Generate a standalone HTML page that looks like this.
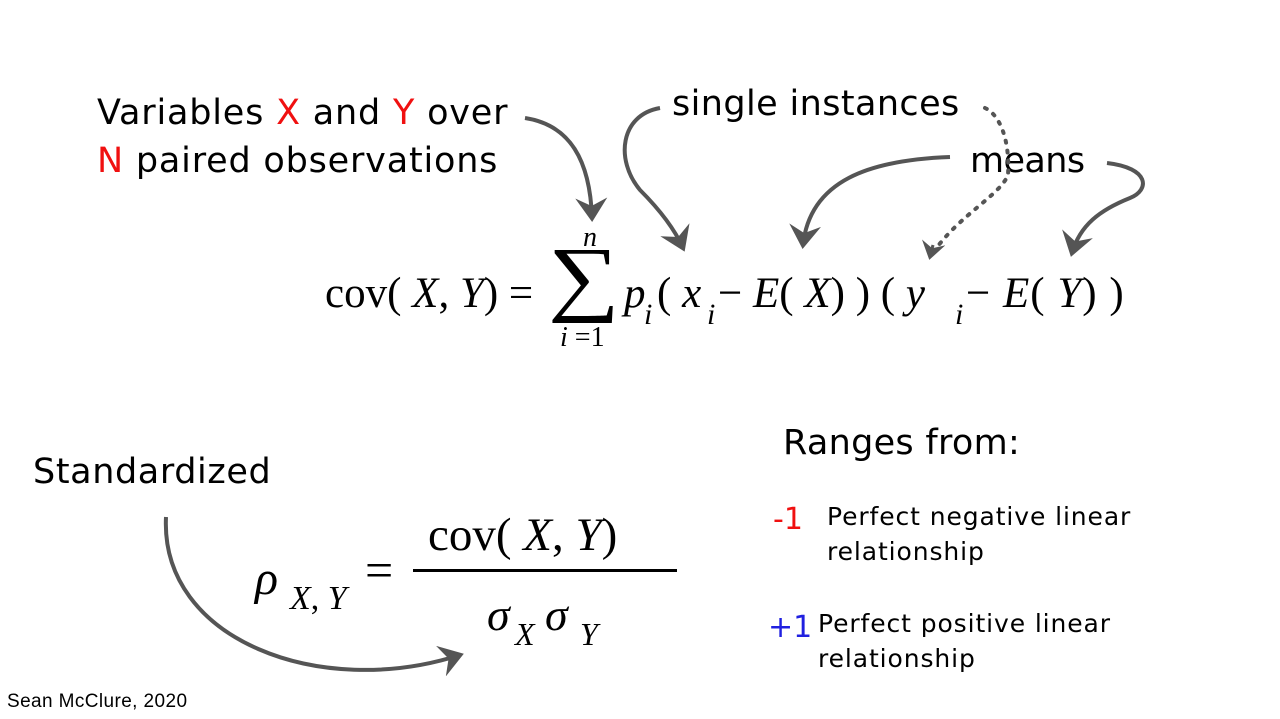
<!DOCTYPE html>
<html><head><meta charset="utf-8"><style>
body{margin:0;width:1280px;height:719px;background:#fff;position:relative;overflow:hidden}
.h{position:absolute;font-family:"DejaVu Sans","Liberation Sans",sans-serif;color:#000;white-space:nowrap;line-height:1}
.m{position:absolute;font-family:"Liberation Serif",serif;color:#000;white-space:nowrap;line-height:1}
i{font-style:italic}
.r{color:#f01010}.b{color:#2020e0}
</style></head><body>
<div class="h" style="left:97px;top:96px;font-size:35px;letter-spacing:0.8px">Variables <span class="r">X</span> and <span class="r">Y</span> over</div>
<div class="h" style="left:97px;top:144px;font-size:35px;letter-spacing:0.8px"><span class="r">N</span> paired observations</div>
<div class="h" style="left:672px;top:87px;font-size:35px;letter-spacing:0.4px">single instances</div>
<div class="h" style="left:970px;top:144px;font-size:35px;letter-spacing:-0.6px">means</div>

<div class="m" style="left:325px;top:272px;font-size:43px">cov( <i>X</i>, <i>Y</i>) =</div>
<div class="m" style="left:548px;top:236px;font-size:84px;transform:scaleX(1.2);transform-origin:left">∑</div>
<div class="m" style="left:583px;top:224px;font-size:28px"><i>n</i></div>
<div class="m" style="left:560px;top:324px;font-size:28px"><i>i</i> =1</div>
<div class="m" style="left:624px;top:272px;font-size:43px"><i>p</i></div>
<div class="m" style="left:644px;top:300px;font-size:30px"><i>i</i></div>
<div class="m" style="left:657px;top:272px;font-size:43px">( <i>x</i></div>
<div class="m" style="left:707px;top:300px;font-size:30px"><i>i</i></div>
<div class="m" style="left:718px;top:272px;font-size:43px">− <i>E</i>( <i>X</i>) ) ( <i>y</i></div>
<div class="m" style="left:955px;top:300px;font-size:30px"><i>i</i></div>
<div class="m" style="left:966px;top:272px;font-size:43px;letter-spacing:1px">− <i>E</i>( <i>Y</i>) )</div>

<div class="h" style="left:33px;top:455px;font-size:35px;letter-spacing:0.6px">Standardized</div>
<div class="m" style="left:255px;top:555px;font-size:48px"><i>ρ</i></div>
<div class="m" style="left:290px;top:582px;font-size:34px"><i>X</i>, <i>Y</i></div>
<div class="m" style="left:365px;top:545px;font-size:50px">=</div>
<div style="position:absolute;left:413px;top:569px;width:264px;height:3px;background:#000"></div>
<div class="m" style="left:428px;top:512px;font-size:47px">cov( <i>X</i>, <i>Y</i>)</div>
<div class="m" style="left:487px;top:592px;font-size:46px"><i>σ</i></div>
<div class="m" style="left:515px;top:618px;font-size:32px"><i>X</i></div>
<div class="m" style="left:545px;top:592px;font-size:46px"><i>σ</i></div>
<div class="m" style="left:580px;top:618px;font-size:32px"><i>Y</i></div>

<div class="h" style="left:783px;top:426px;font-size:35px;letter-spacing:0.3px">Ranges from:</div>
<div class="h r" style="left:773px;top:505px;font-size:30px">-1</div>
<div class="h" style="left:827px;top:504px;font-size:25px;letter-spacing:0.9px">Perfect negative linear</div>
<div class="h" style="left:827px;top:539px;font-size:25px;letter-spacing:0.9px">relationship</div>
<div class="h b" style="left:768px;top:613px;font-size:30px">+1</div>
<div class="h" style="left:818px;top:611px;font-size:25px;letter-spacing:0.9px">Perfect positive linear</div>
<div class="h" style="left:818px;top:646px;font-size:25px;letter-spacing:0.9px">relationship</div>
<div style="position:absolute;left:7px;top:691px;font:19px 'Liberation Sans',sans-serif;letter-spacing:0.4px">Sean McClure, 2020</div>

<svg width="1280" height="719" style="position:absolute;left:0;top:0" fill="none" stroke="#555" stroke-width="4">
<defs><marker id="a" markerWidth="8" markerHeight="8" refX="5" refY="4" orient="auto" markerUnits="strokeWidth"><path d="M0,0 L6,4 L0,8 L2,4z" fill="#555" stroke="none"/></marker></defs>
<path d="M525,118 C570,125 590,160 592,218" marker-end="url(#a)"/>
<path d="M660,108 C620,115 615,160 640,190 C660,210 675,230 683,248" marker-end="url(#a)"/>
<path d="M950,157 C870,160 810,180 803,245" marker-end="url(#a)"/>
<path d="M1107,163 C1150,168 1150,190 1130,198 C1100,210 1080,225 1072,253" marker-end="url(#a)"/>
<path d="M985,108 C1000,115 1010,140 1008,175 C1000,195 960,215 935,250" stroke-dasharray="2 8" stroke-linecap="round" stroke-width="4"/>
<path d="M933,245 L930,257" marker-end="url(#a)" stroke-width="3"/>
<path d="M166,517 C160,640 320,700 460,655" marker-end="url(#a)"/>
</svg>
</body></html>
